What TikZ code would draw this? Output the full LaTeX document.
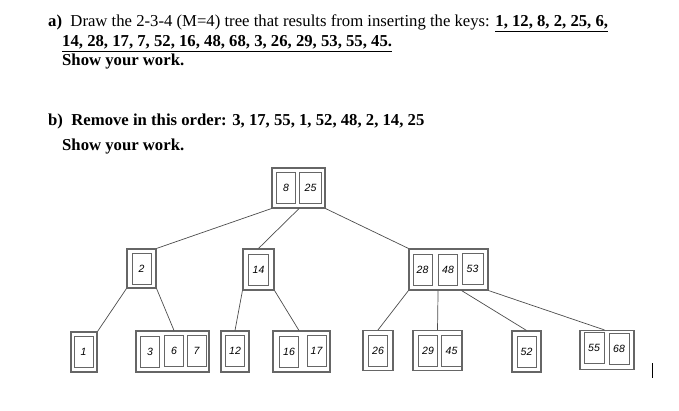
\documentclass[tikz,border=0pt]{standalone}
\usepackage{fontspec}
\setmainfont{Liberation Serif}
\newfontfamily\arialf{Liberation Sans}
\begin{document}
\begin{tikzpicture}[x=1pt,y=-1pt,
  txt/.style={anchor=base west,inner sep=0,font=\fontsize{16.7}{19}\selectfont},
  outer/.style={draw=black!60,line width=1.1pt,inner sep=0},
  cell/.style={draw=black!60,line width=0.9pt,inner sep=0,minimum width=19pt,minimum height=31pt,font=\arialf\itshape\fontsize{10.5}{12}\selectfont},
  edge/.style={draw=black!70,line width=0.7pt}]
\useasboundingbox (0,0) rectangle (679,411);
% text
\node[txt] (la) at (48,27) {\textbf{a)}\ \ Draw the 2-3-4 (M=4) tree that results from inserting the keys: \textbf{\underline{1, 12, 8, 2, 25, 6,}}};
\node[txt] (la2) at (62,47) {\textbf{\underline{14, 28, 17, 7, 52, 16, 48, 68, 3, 26, 29, 53, 55, 45.}}};
\node[txt] (la3) at (62,66) {\textbf{Show your work.}};
\node[txt] (lb) at (48,126) {\textbf{b)\ \ Remove in this order: 3, 17, 55, 1, 52, 48, 2, 14, 25}};
\node[txt] (lb2) at (62,151) {\textbf{Show your work.}};
\newcommand{\onode}[5]{\node[outer,minimum width=#4pt,minimum height=#5pt] (#1) at (#2,#3) {};}
% root
\onode{root}{298.5}{188}{53}{40}
\node[cell] (c8) at (286,187.5) {8};
\node[cell,minimum width=22pt] (c25) at (310.5,187.5) {25};
% level 1
\onode{n2}{141.5}{268.5}{29}{39}
\node[cell] (c2) at (141.5,268.5) {2};
\onode{n14}{258.5}{269.5}{31}{41}
\node[cell,minimum width=20pt] (c14) at (258.5,269.5) {14};
\onode{n28}{448.5}{269.5}{79}{41}
\node[cell] (c28) at (422.5,270) {28};
\node[cell] (c48) at (448,269.5) {48};
\node[cell,minimum width=21pt] (c53) at (472.5,269) {53};
% leaves
\onode{l1}{84}{352}{26}{40}
\node[cell] (c1) at (83.5,351.5) {1};
\onode{l367}{172.5}{351.5}{73}{41}
\node[cell] (c3) at (150,352) {3};
\node[cell] (c6) at (174,351) {6};
\node[cell] (c7) at (196.5,351) {7};
\onode{l12}{235}{351.5}{28}{41}
\node[cell] (c12) at (235,351) {12};
\onode{l16}{301.5}{351.5}{57}{41}
\node[cell] (c16) at (289,352) {16};
\node[cell] (c17) at (316.5,351) {17};
\onode{l26}{378}{350.5}{30}{40}
\node[cell] (c26) at (378,350.5) {26};
\onode{l29}{437.5}{350.5}{49}{40}
\node[cell] (c29) at (428,350.5) {29};
\node[cell,minimum width=20pt] (c45) at (451.5,350.5) {45};
\onode{l52}{526.5}{351.5}{29}{41}
\node[cell] (c52) at (526.5,351.5) {52};
\onode{l55}{607}{350}{54}{39}
\node[cell,minimum width=20pt] (c55) at (594,348) {55};
\node[cell,minimum width=20pt] (c68) at (619,348.5) {68};
% edges
\path[edge] (root.south west) -- (n2.north east);
\path[edge] (c25.south west |- root.south) -- (n14.north);
\path[edge] (root.south east) -- (n28.north west);
\path[edge] (n2.south west) -- (l1.north east);
\path[edge] (n2.south east) -- (c6.north |- l367.north);
\path[edge] (n14.south west) -- (l12.north);
\path[edge] (n14.south east) -- (c16.north east |- l16.north);
\path[edge] (n28.south west) -- (l26.north);
\path[edge] (c48.south west |- n28.south) -- (l29.north);
\path[edge] (c53.south west |- n28.south) -- (c52.north |- l52.north);
\path[edge] (n28.south east) -- (c55.north east |- l55.north);
% text cursor
\coordinate (cur1) at (652,363);
\coordinate (cur2) at (652,378);
\draw[line width=0.8pt] (cur1) -- (cur2);
\end{tikzpicture}
\end{document}
